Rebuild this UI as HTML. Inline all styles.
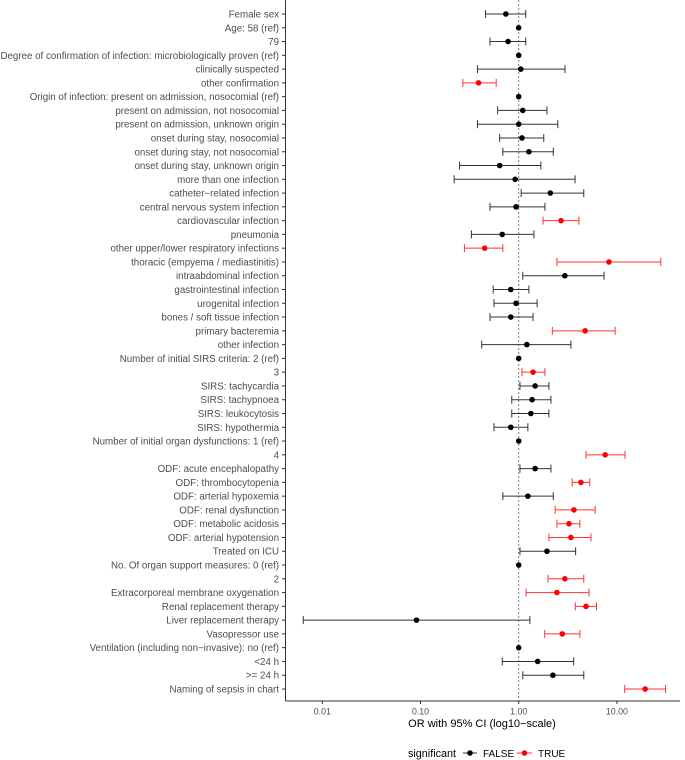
<!DOCTYPE html>
<html><head><meta charset="utf-8"><style>
body{margin:0;background:#fff}
svg{display:block;font-family:"Liberation Sans",Arial,sans-serif}
</style></head><body>
<svg id="chart" width="685" height="760" viewBox="0 0 685 760" xmlns="http://www.w3.org/2000/svg"></svg>
<script>
const labels = ["Female sex","Age: 58 (ref)","79","Degree of confirmation of infection: microbiologically proven (ref)","clinically suspected","other confirmation","Origin of infection: present on admission, nosocomial (ref)","present on admission, not nosocomial","present on admission, unknown origin","onset during stay, nosocomial","onset during stay, not nosocomial","onset during stay, unknown origin","more than one infection","catheter\u2212related infection","central nervous system infection","cardiovascular infection","pneumonia","other upper/lower respiratory infections","thoracic (empyema / mediastinitis)","intraabdominal infection","gastrointestinal infection","urogenital infection","bones / soft tissue infection","primary bacteremia","other infection","Number of initial SIRS criteria: 2 (ref)","3","SIRS: tachycardia","SIRS: tachypnoea","SIRS: leukocytosis","SIRS: hypothermia","Number of initial organ dysfunctions: 1 (ref)","4","ODF: acute encephalopathy","ODF: thrombocytopenia","ODF: arterial hypoxemia","ODF: renal dysfunction","ODF: metabolic acidosis","ODF: arterial hypotension","Treated on ICU","No. Of organ support measures: 0 (ref)","2","Extracorporeal membrane oxygenation","Renal replacement therapy","Liver replacement therapy","Vasopressor use","Ventilation (including non\u2212invasive): no (ref)","<24 h",">= 24 h","Naming of sepsis in chart"];
const orValues = [0.74,1,0.78,1,1.05,0.39,1,1.1,1.0,1.08,1.27,0.64,0.92,2.1,0.94,2.7,0.68,0.45,8.3,2.95,0.83,0.94,0.83,4.75,1.21,1,1.4,1.47,1.37,1.33,0.83,1,7.6,1.47,4.3,1.24,3.65,3.25,3.4,1.94,1,2.95,2.45,4.85,0.091,2.78,1,1.56,2.23,19.4];
const ciLow = [0.46,null,0.51,null,0.38,0.27,null,0.61,0.38,0.64,0.69,0.25,0.22,1.06,0.51,1.77,0.33,0.28,2.45,1.1,0.55,0.56,0.51,2.2,0.42,null,1.08,1.03,0.85,0.85,0.56,null,4.85,1.03,3.5,0.69,2.35,2.45,2.03,1.03,null,1.99,1.19,3.77,0.0064,1.84,null,0.68,1.1,12.0];
const ciHigh = [1.18,null,1.18,null,2.96,0.59,null,1.94,2.5,1.8,2.25,1.68,3.75,4.6,1.85,4.1,1.43,0.69,28,7.4,1.27,1.54,1.4,9.6,3.4,null,1.85,2.03,2.13,2.03,1.24,null,12.1,2.13,5.3,2.25,6.0,4.2,5.45,3.8,null,4.6,5.2,6.2,1.3,4.2,null,3.63,4.6,31.3];
const significant = [0,0,0,0,0,1,0,0,0,0,0,0,0,0,0,1,0,1,1,0,0,0,0,1,0,0,1,0,0,0,0,0,1,0,1,0,1,1,1,0,0,1,1,1,0,1,0,0,0,1];
const xTicks = [0.01,0.1,1,10];
const xTickLabels = ["0.01","0.10","1.00","10.00"];

const NS="http://www.w3.org/2000/svg";
const svg=document.getElementById('chart');
const L=285.5,R=680,T=0,B=701;
const x=v=>518.7+98.2*Math.log10(v);
const y=i=>14+i*(675/49);
function mk(tag,attrs,parent){const e=document.createElementNS(NS,tag);for(const k in attrs)e.setAttribute(k,attrs[k]);(parent||svg).appendChild(e);return e;}

const ref=mk('line',{x1:x(1),x2:x(1),y1:T,y2:B,stroke:'#777','stroke-dasharray':'2,2','stroke-width':1});



labels.forEach((lab,i)=>{
  const t=mk('text',{x:279,y:y(i)+3.5,'text-anchor':'end','font-size':9.75,fill:'#4d4d4d'});
  t.textContent=lab;
  
  
  mk('line',{x1:282,x2:L,y1:y(i),y2:y(i),stroke:'#333','stroke-width':1});
  const col=significant[i]?'#f00':'#000';
  const g=mk('g',{});
  
  
  if(ciLow[i]!==null){
    const lc=significant[i]?'#f33':'#333';
    mk('line',{x1:x(ciLow[i]),x2:x(ciHigh[i]),y1:y(i),y2:y(i),stroke:lc,'stroke-width':1},g);
    mk('line',{x1:x(ciLow[i]),x2:x(ciLow[i]),y1:y(i)-4,y2:y(i)+4,stroke:lc,'stroke-width':1},g);
    mk('line',{x1:x(ciHigh[i]),x2:x(ciHigh[i]),y1:y(i)-4,y2:y(i)+4,stroke:lc,'stroke-width':1},g);
  }
  mk('circle',{cx:x(orValues[i]),cy:y(i),r:2.8,fill:col},g);
});

const ax=mk('line',{x1:L,x2:L,y1:T,y2:B,stroke:'#333','stroke-width':1});


const xa=mk('line',{x1:L,x2:R,y1:B,y2:B,stroke:'#333','stroke-width':1});


xTicks.forEach((v,i)=>{
  mk('line',{x1:x(v),x2:x(v),y1:B,y2:B+3,stroke:'#333'});
  const t=mk('text',{x:x(v),y:B+13.5,'text-anchor':'middle','font-size':8.8,fill:'#4d4d4d'});
  t.textContent=xTickLabels[i];
  
  
});
const xt=mk('text',{x:482,y:727,'text-anchor':'middle','font-size':11,fill:'#000'});
xt.textContent='OR with 95% CI (log10\u2212scale)';



const lg=mk('g',{});


const lt=mk('text',{x:408,y:757,'font-size':10.8,fill:'#000'},lg);
lt.textContent='significant';
mk('line',{x1:463,x2:477,y1:753,y2:753,stroke:'#333'},lg);
mk('circle',{cx:470,cy:753,r:2.8,fill:'#000'},lg);
const f=mk('text',{x:483,y:757,'font-size':10,fill:'#000'},lg);f.textContent='FALSE';


mk('line',{x1:517,x2:532,y1:753,y2:753,stroke:'#f33'},lg);
mk('circle',{cx:524.5,cy:753,r:2.8,fill:'#f00'},lg);
const tr=mk('text',{x:538,y:757,'font-size':10,fill:'#000'},lg);tr.textContent='TRUE';


</script>
</body></html>
